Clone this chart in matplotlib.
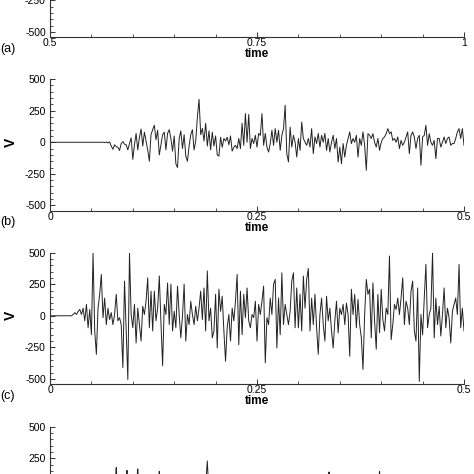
import numpy as np
import matplotlib
matplotlib.use("Agg")
import matplotlib.pyplot as plt
from matplotlib.ticker import MultipleLocator, FormatStrFormatter

plt.rcParams["font.family"] = ["Liberation Sans", "DejaVu Sans"]
plt.rcParams["axes.unicode_minus"] = False

# sample step of the digitised signals
DT = 0.002

# panel (b): velocity V, t = 0 .. 0.5
v_b = [0] * 30 + [
    0, 0, 0, -3, 2, -5, 3, -30, -55, -20,
    -35, -40, -65, -10, 5, -15, -20, -60, -10, 35,
    -135, -20, 70, -60, 40, 105, -30, 80, 10, -60,
    -150, 60, 100, 135, 20, 95, -100, -20, 60, 80,
    -60, 70, 100, 30, -70, 50, -170, -200, 30, 90,
    -50, 60, -110, -150, -30, 60, 100, -60, 10, 200,
    340, 60, 110, 10, 150, -30, 90, -60, 80, -30,
    50, -100, -110, 40, -40, 30, 10, 40, -20, 50,
    -70, -40, -24, -50, 30, -50, 150, -24, 227, 0,
    220, -50, 30, -10, 55, -38, 70, 55, 227, -24,
    70, -38, -77, -10, 95, -24, 108, 0, 95, -64,
    55, 108, 293, -90, -156, 120, -38, 55, 0, -117,
    30, -64, 160, 30, 0, -24, 30, -38, 108, -90,
    42, -10, 70, -38, 55, 0, 70, -64, 30, -77,
    0, 55, -50, 30, -156, -38, -170, -10, -117, -24,
    30, 82, -10, 30, 0, 55, -117, 30, -24, 82,
    -24, -222, 68, 55, 30, 68, 0, -38, 30, -64,
    0, 30, 42, 68, 108, 68, 82, 15, 30, 0,
    42, -50, 15, -24, 0, 42, 82, -90, 55, 82,
    42, -50, 30, 55, -182, 42, 55, 134, -24, 68,
    0, -24, 15, -130, 30, 30, -38, 0, 42, -10,
    30, 42, -24, -10, -10, 30, 82, 108, 30, 108,
    -24,
]

# panel (c): velocity V, t = 0 .. 0.5
v_c = [0] * 13 + [
    0, 10, 25, 10, 35, 50, 10, 60, -40, 90,
    -95, 50, -150, 500, -120, -305, 60, 170, 327, -15,
    140, -70, 60, -30, 25, -70, 10, 170, -40, -15,
    -70, -410, 275, -120, -505, 495, 10, -95, 90, -215,
    60, -70, -200, 75, 10, 115, 300, -95, 195, -120,
    195, -40, 60, 315, -55, -395, 90, 10, 260, -70,
    250, -120, 35, -95, 235, 10, -175, 0, 250, -200,
    10, -70, 115, 10, -70, 75, -40, 60, 195, -30,
    220, -120, 355, -40, 60, -175, -120, 170, -255, 210,
    35, 155, -120, -360, -95, 10, -200, 60, -40, 115,
    327, -230, 195, -150, 170, -15, 220, -40, -95, 10,
    -15, 115, -200, 90, 10, 115, 235, -372, -15, -70,
    140, 10, 250, 288, -255, 140, -150, 340, -70, 90,
    10, -70, 35, 275, 340, -95, 220, -95, 170, -120,
    315, 60, 288, 375, -120, 140, -70, 170, -95, -305,
    10, 140, -70, -200, 155, -40, 60, -120, -255, -40,
    115, -135, 60, 10, 90, -70, 100, 10, -320, 210,
    10, 170, -95, 130, -70, -175, -425, 10, 288, 170,
    210, -175, 260, -40, -265, 170, -135, 210, -30, -120,
    60, 10, 473, -190, -70, 90, 50, 140, 10, 140,
    300, -70, 115, 60, -70, 195, 275, -120, -200, 220,
    -520, 10, -150, 140, 407, -95, 10, 60, 500, -175,
    140, -70, 75, -160, 10, 220, -95, 60, -15, -215,
    35, 90, 140, 10, 407, -95, 60, -120,
]

# panel (d): only the tallest spikes are inside the picture
t_d = [0.0, 0.078, 0.080, 0.082, 0.091, 0.093, 0.095, 0.104, 0.106, 0.108,
       0.130, 0.132, 0.134, 0.188, 0.190, 0.192, 0.335, 0.337, 0.339,
       0.396, 0.398, 0.400, 0.5]
v_d = [0, -20, 176, -40, 30, 154, -30, 20, 165, -40,
       10, 146, -30, 40, 228, -50, 20, 141, -30,
       10, 146, -20, 0]

x_ranges = [(0.5, 1.0), (0.0, 0.5), (0.0, 0.5), (0.0, 0.5)]
panel_tags = ["(a)", "(b)", "(c)", None]

W = H = 474
LEFT, RIGHT = 50, 464
AX_H = 131.4
# pixel row of each panel's bottom axis line
bottoms = [37, 210.5, 384, 558]


def style_axis(ax, xr, show_x=True):
    ax.set_xlim(*xr)
    ax.set_ylim(-540, 500)
    for s in ["top", "right"]:
        ax.spines[s].set_visible(False)
    for s in ["left", "bottom"]:
        ax.spines[s].set_linewidth(0.8)
        ax.spines[s].set_color("#333333")
    ax.xaxis.set_major_locator(MultipleLocator(0.25))
    ax.xaxis.set_minor_locator(MultipleLocator(0.05))
    ax.yaxis.set_major_locator(MultipleLocator(250))
    ax.yaxis.set_minor_locator(MultipleLocator(50))
    ax.xaxis.set_major_formatter(FormatStrFormatter("%g"))
    ax.yaxis.set_major_formatter(FormatStrFormatter("%g"))
    ax.tick_params(which="major", direction="in", length=3.5, width=0.7,
                   labelsize=7.5, colors="#333333", labelcolor="black")
    ax.tick_params(which="minor", direction="in", length=2, width=0.6,
                   colors="#333333")
    ax.tick_params(axis="x", which="major", pad=1)
    ax.tick_params(axis="y", which="major", pad=3)
    if show_x:
        ax.set_xlabel("time", fontsize=8.5, fontweight="bold")
        ax.xaxis.set_label_coords(0.5, -0.085)
        ax.set_ylabel("V", fontsize=10, fontweight="bold")
        ax.yaxis.set_label_coords(-32 / (RIGHT - LEFT), 0.52)
    else:
        # the lower part of this panel lies outside the picture
        ax.tick_params(axis="x", labelbottom=False)


fig = plt.figure(figsize=(W / 100, H / 100), dpi=100)
axes = []
for b, xr, tag in zip(bottoms, x_ranges, panel_tags):
    ax = fig.add_axes([LEFT / W, 1 - b / H, (RIGHT - LEFT) / W, AX_H / H])
    style_axis(ax, xr, show_x=tag is not None)
    axes.append(ax)
    if tag:
        fig.text(0.0, 1 - (b + 12) / H, tag, fontsize=9, va="center", ha="left")

t_b = np.arange(len(v_b)) * DT
t_c = np.arange(len(v_c)) * DT

axes[1].plot(t_b, v_b, color="#222222", lw=0.7)
axes[2].plot(t_c, v_c, color="#222222", lw=0.7)
axes[3].plot(t_d, v_d, color="#222222", lw=0.7)

fig.savefig("out.png", dpi=100)
